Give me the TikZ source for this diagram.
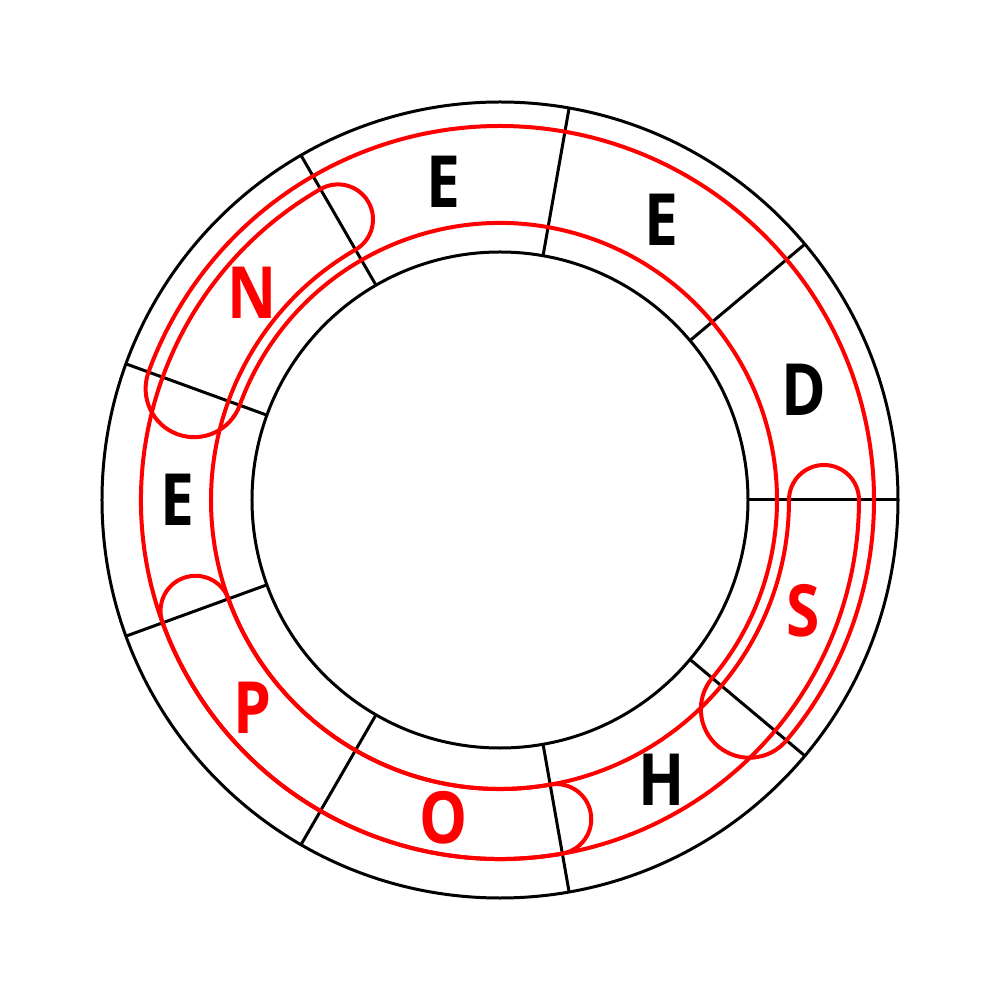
\documentclass[tikz,border=0pt]{standalone}
\usepackage{fontspec}
\setmainfont{Open Sans}
\newcommand\ringletter[1]{\scalebox{0.84}[1]{#1}}
\begin{document}
\begin{tikzpicture}[
  blk/.style={line width=3pt, draw=black},
  rd/.style={line width=4pt, draw=red},
  lettr/.style={font=\fontsize{72}{72}\selectfont\bfseries, inner sep=0pt, anchor=center},
]
\useasboundingbox (-500pt,-500pt) rectangle (500pt,500pt);
% ring
\draw[blk] (0,0) circle[radius=398pt];
\draw[blk] (0,0) circle[radius=248pt];
\foreach \a in {0,40,...,320} \draw[blk] (\a:248pt) -- (\a:398pt);
% oval A (caps at 120 and 360)
\draw[rd] (120:359pt) arc[start angle=120, end angle=360, radius=359pt]
  arc[start angle=0, end angle=180, radius=35pt]
  arc[start angle=360, end angle=120, radius=289pt]
  arc[start angle=300, end angle=480, radius=35pt] -- cycle;
% oval B (caps at -40 and 160)
\draw[rd] (-40:374pt) arc[start angle=-40, end angle=160, radius=374pt]
  arc[start angle=160, end angle=340, radius=48.5pt]
  arc[start angle=160, end angle=-40, radius=277pt]
  arc[start angle=140, end angle=320, radius=48.5pt] -- cycle;
% oval C (caps at 200 and 280)
\draw[rd] (200:359pt) arc[start angle=200, end angle=280, radius=359pt]
  arc[start angle=280, end angle=460, radius=35pt]
  arc[start angle=280, end angle=200, radius=289pt]
  arc[start angle=380, end angle=560, radius=35pt] -- cycle;
% letters
\node[lettr, text=red]   (l1) at (140:323pt) {\ringletter{N}};
\node[lettr, text=black] (l2) at (100:323pt) {\ringletter{E}};
\node[lettr, text=black] (l3) at (60:323pt)  {\ringletter{E}};
\node[lettr, text=black] (l4) at (20:323pt)  {\ringletter{D}};
\node[lettr, text=red]   (l5) at (340:323pt) {\ringletter{S}};
\node[lettr, text=black] (l6) at (300:323pt) {\ringletter{H}};
\node[lettr, text=red]   (l7) at (260:323pt) {\ringletter{O}};
\node[lettr, text=red]   (l8) at (220:323pt) {\ringletter{P}};
\node[lettr, text=black] (l9) at (180:323pt) {\ringletter{E}};
\end{tikzpicture}
\end{document}
